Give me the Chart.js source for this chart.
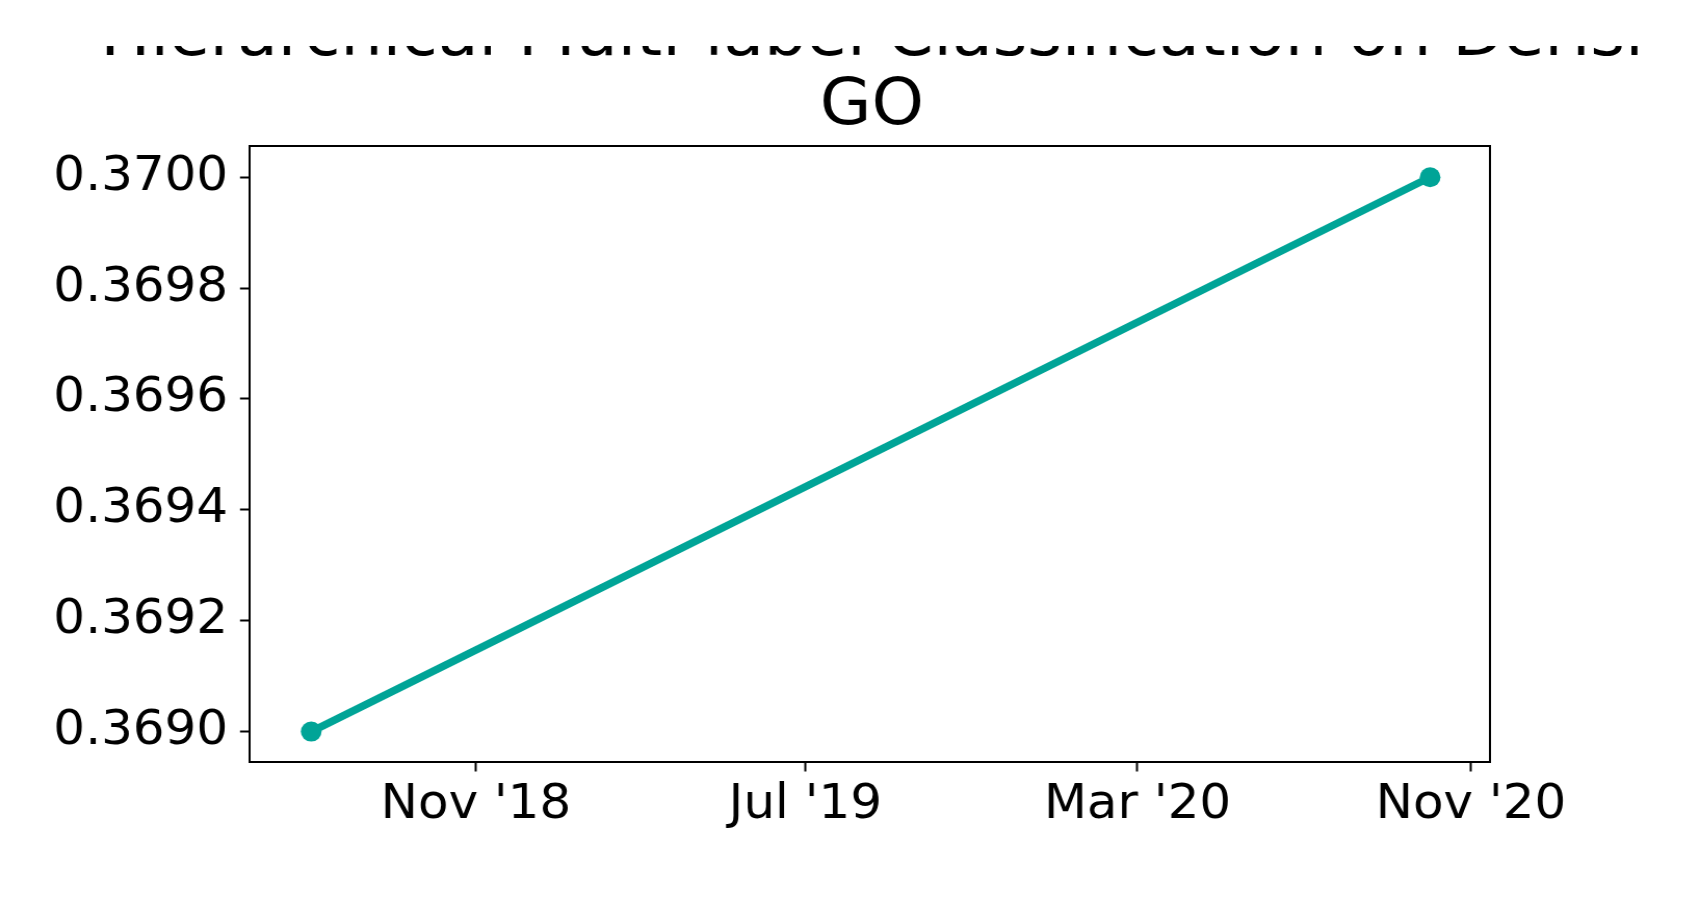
<!DOCTYPE html>
<html>
<head>
<meta charset="utf-8">
<script src="https://cdn.jsdelivr.net/npm/chart.js@4.4.1/dist/chart.umd.min.js"></script>
<style>
  html, body { margin: 0; padding: 0; background: #ffffff; width: 1700px; height: 900px; overflow: hidden; }
  #wrap { position: absolute; left: 0; top: 46px; width: 1700px; height: 854px; }
  #c { display: block; }
</style>
</head>
<body>
<div id="wrap"><canvas id="c" width="1635" height="854" style="width:1700px;height:854px;"></canvas></div>
<script>
// ---- data ----
const titleLines = ['Hierarchical Multi-label Classification on Derisi', 'GO'];
const dates = ['2018-07-03', '2020-10-02'];
const scores = [0.3690, 0.3700];
const xTickDates = ['2018-11-01', '2019-07-01', '2020-03-01', '2020-11-01'];
const xTickLabels = ["Nov '18", "Jul '19", "Mar '20", "Nov '20"];
const yTickValues = [0.3690, 0.3692, 0.3694, 0.3696, 0.3698, 0.3700];
const xRange = ['2018-05-19', '2020-11-15'];
const yRange = [0.368946, 0.370057];

const toDay = s => Date.parse(s + 'T00:00:00Z') / 86400000;
const lineColor = '#00A497';
const FONT = "'DejaVu Sans', sans-serif";

const points = dates.map((d, i) => ({ x: toDay(d), y: scores[i] }));

const canvas = document.getElementById('c');
new Chart(canvas, {
  type: 'line',
  data: {
    datasets: [{
      data: points,
      borderColor: lineColor,
      backgroundColor: lineColor,
      borderWidth: 7.5,
      pointRadius: 10,
      pointBorderWidth: 0,
      pointBackgroundColor: lineColor,
      fill: false,
      tension: 0
    }]
  },
  options: {
    responsive: false,
    devicePixelRatio: 1,
    animation: false,
    layout: { padding: { left: 42.2, right: 0, top: 0, bottom: 0 } },
    plugins: {
      legend: { display: false },
      tooltip: { enabled: false },
      title: {
        display: true,
        text: titleLines,
        color: '#000000',
        font: { family: FONT, size: 64, weight: 'normal', lineHeight: 1.078 },
        padding: { top: -42, bottom: 3.7 }
      }
    },
    scales: {
      x: {
        type: 'linear',
        position: 'bottom',
        min: toDay(xRange[0]),
        max: toDay(xRange[1]),
        afterBuildTicks: s => { s.ticks = xTickDates.map(d => ({ value: toDay(d) })); },
        afterFit: s => { s.height = 138.5; },
        ticks: {
          autoSkip: false,
          maxRotation: 0,
          minRotation: 0,
          color: '#000000',
          padding: 5,
          font: { family: FONT, size: 48 },
          callback: (v, i) => xTickLabels[i]
        },
        grid: { display: true, drawOnChartArea: false, drawTicks: true, tickLength: 10, tickWidth: 2, tickColor: '#000000', color: '#000000' },
        border: { display: true, color: '#000000', width: 2 }
      },
      xTop: {
        type: 'linear',
        position: 'top',
        display: true,
        afterFit: s => { s.height = 0; },
        ticks: { display: false },
        grid: { display: false, drawTicks: false },
        border: { display: true, color: '#000000', width: 2 }
      },
      y: {
        type: 'linear',
        position: 'left',
        min: yRange[0],
        max: yRange[1],
        afterBuildTicks: s => { s.ticks = yTickValues.map(v => ({ value: v })); },
        afterFit: s => { s.width = 198.2; },
        ticks: {
          color: '#000000',
          padding: 11.5,
          font: { family: FONT, size: 48 },
          callback: v => Number(v).toFixed(4)
        },
        grid: { display: true, drawOnChartArea: false, drawTicks: true, tickLength: 9.6, tickWidth: 2, tickColor: '#000000', color: '#000000' },
        border: { display: true, color: '#000000', width: 2 }
      },
      yRight: {
        type: 'linear',
        position: 'right',
        display: true,
        afterFit: s => { s.width = 202; },
        ticks: { display: false },
        grid: { display: false, drawTicks: false },
        border: { display: true, color: '#000000', width: 2 }
      }
    }
  }
});
canvas.style.width = '1700px';
canvas.style.height = '854px';
</script>
</body>
</html>
